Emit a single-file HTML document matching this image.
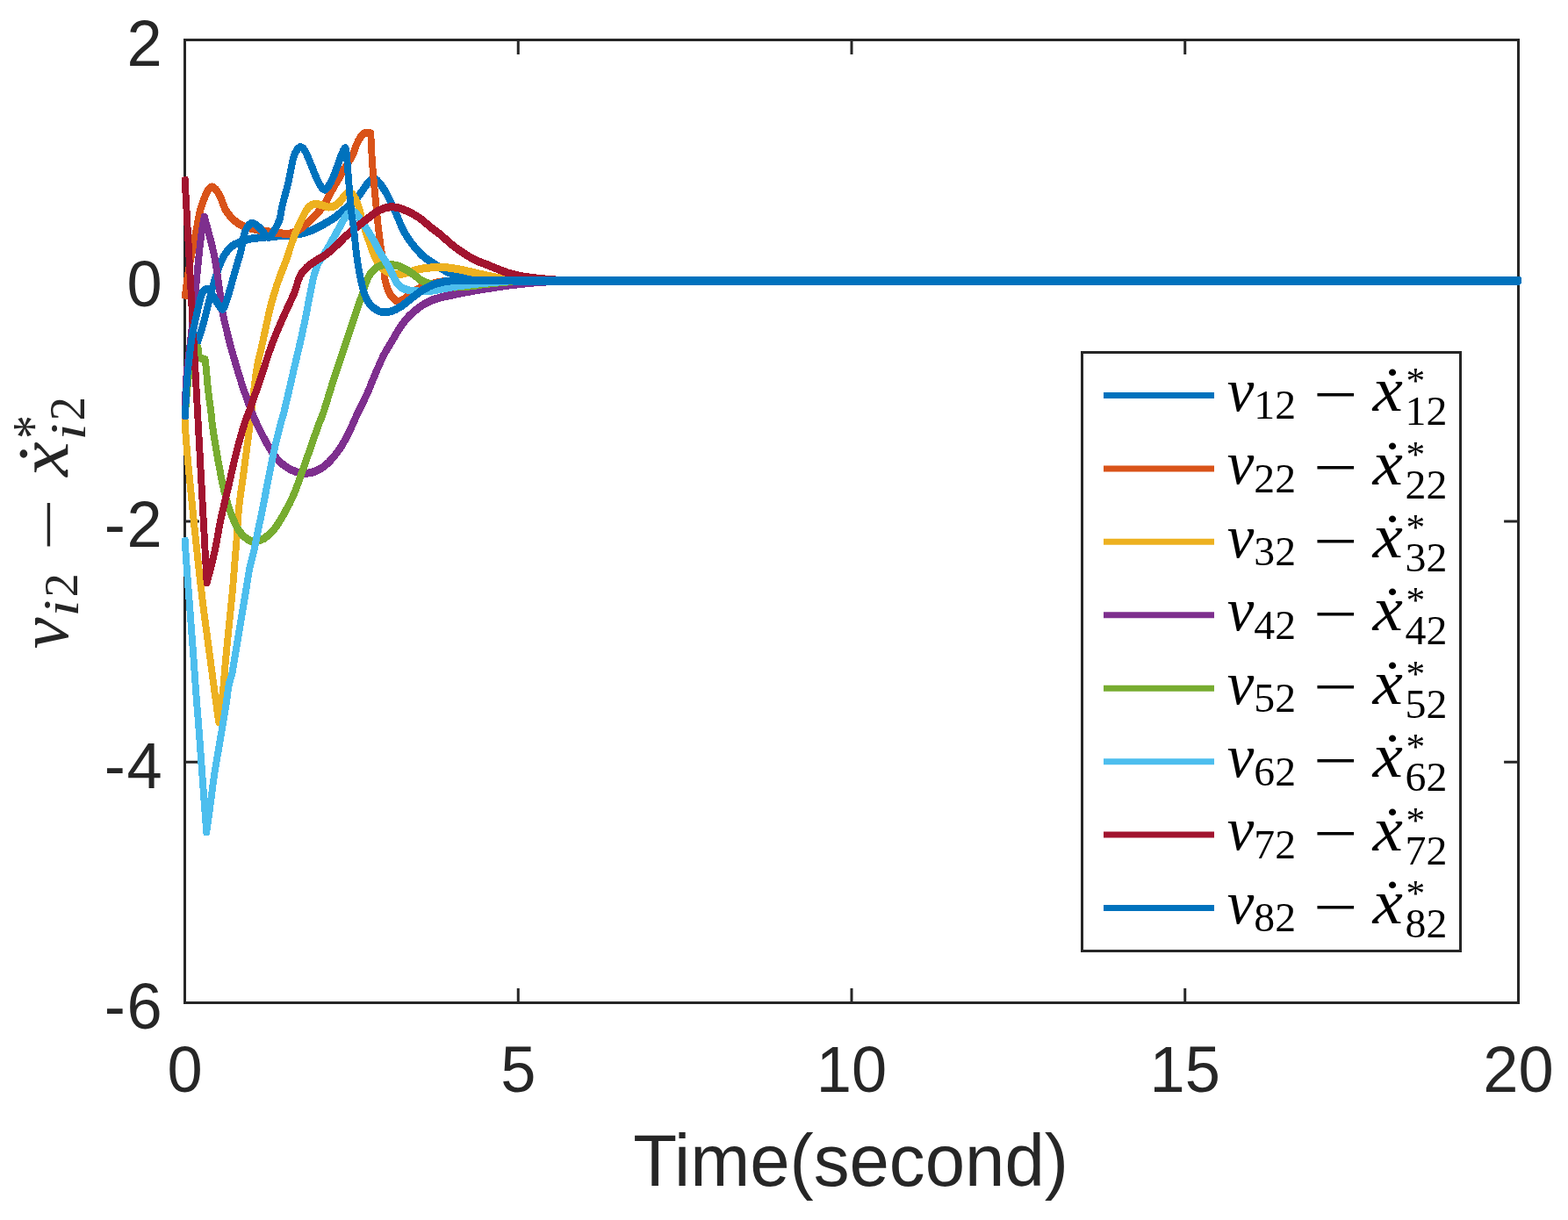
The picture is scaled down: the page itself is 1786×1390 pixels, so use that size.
<!DOCTYPE html>
<html lang="en">
<head>
<meta charset="utf-8">
<title>v_i2 - x*_i2 vs Time(second)</title>
<style>
html,body{margin:0;padding:0;background:#fff;}
body{width:1786px;height:1390px;overflow:hidden;}
svg{display:block;}
.tk text{font-family:"Liberation Sans",sans-serif;font-size:74.8px;fill:#262626;}
.xl{font-family:"Liberation Sans",sans-serif;font-size:84.2px;fill:#262626;}
.it{font-family:"Liberation Serif",serif;font-style:italic;font-size:100px;}
.rm{font-family:"Liberation Serif",serif;font-size:100px;}
.lg text{fill:#000;}
.yl text{fill:#262626;}
.cv path{fill:none;stroke-width:7.8;stroke-linejoin:round;stroke-linecap:butt;shape-rendering:crispEdges;}
</style>
</head>
<body>
<svg width="1786" height="1390" viewBox="0 0 1786 1390">
<rect x="0" y="0" width="1786" height="1390" fill="#fff"/>
<g id="axes" fill="none" stroke="#262626" stroke-width="3">
<rect x="210.5" y="45.5" width="1519.0" height="1097.0" fill="#fff"/>
<path d="M590.25 1142.50V1126.10M590.25 45.50V61.90M970.00 1142.50V1126.10M970.00 45.50V61.90M1349.75 1142.50V1126.10M1349.75 45.50V61.90M210.50 319.75H226.90M1729.50 319.75H1713.10M210.50 594.00H226.90M1729.50 594.00H1713.10M210.50 868.25H226.90M1729.50 868.25H1713.10"/>
</g>
<g class="cv">
<g stroke="#0072BD"><path transform="translate(0 -0.60)" d="M210.5 477.0C210.6 475.7 210.8 473.5 211.1 469.0C211.4 464.5 211.9 456.6 212.5 450.0C213.1 443.4 213.5 436.3 214.5 429.6C215.5 422.9 216.8 416.6 218.5 410.0C220.2 403.4 222.9 396.7 225.0 390.0C227.1 383.3 229.6 375.9 231.3 370.0C233.0 364.1 233.6 361.3 235.3 354.4C237.1 347.5 240.1 335.2 241.8 328.6C243.6 322.0 244.4 319.3 245.8 315.0C247.2 310.7 248.3 307.1 250.0 302.9C251.7 298.7 253.8 293.6 256.0 290.0C258.2 286.4 260.8 283.3 263.5 281.0C266.2 278.7 268.7 277.7 272.1 276.3C275.5 274.9 278.6 273.4 283.7 272.4C288.8 271.3 297.6 270.6 303.0 270.0C308.4 269.4 311.7 269.3 316.0 269.0C320.3 268.7 324.5 268.6 328.8 268.2C333.1 267.8 337.4 267.4 341.7 266.5C346.0 265.6 350.2 264.3 354.5 262.6C358.8 260.9 363.1 258.6 367.4 256.2C371.7 253.8 376.0 251.5 380.3 248.5C384.6 245.5 388.9 241.7 393.2 238.0C397.5 234.3 402.4 230.5 406.0 226.5C409.6 222.5 412.6 217.3 415.0 214.0C417.4 210.7 418.8 208.5 420.5 206.8C422.2 205.1 423.5 204.1 425.1 204.0C426.7 203.9 427.8 203.7 430.0 206.0C432.2 208.3 435.9 213.1 438.6 217.6C441.3 222.1 443.9 227.9 446.3 233.0C448.8 238.1 451.1 243.2 453.3 248.2C455.5 253.2 456.9 257.9 459.5 262.8C462.1 267.7 465.3 272.6 468.9 277.3C472.5 282.0 477.4 287.6 481.0 291.0C484.6 294.4 486.8 295.5 490.5 298.0C494.2 300.5 498.8 303.7 503.0 306.1C507.2 308.5 511.6 310.9 515.9 312.5C520.2 314.1 524.5 314.8 528.8 315.7C533.1 316.6 535.3 317.0 541.7 317.6C548.1 318.2 557.7 318.8 567.4 319.2C577.1 319.6 567.4 319.7 600.0 319.8C793.7 319.8 1541.2 319.8 1729.5 319.8"/><path transform="translate(0 0.60)" d="M210.5 477.0C210.6 475.7 210.8 473.5 211.1 469.0C211.4 464.5 211.9 456.6 212.5 450.0C213.1 443.4 213.5 436.3 214.5 429.6C215.5 422.9 216.8 416.6 218.5 410.0C220.2 403.4 222.9 396.7 225.0 390.0C227.1 383.3 229.6 375.9 231.3 370.0C233.0 364.1 233.6 361.3 235.3 354.4C237.1 347.5 240.1 335.2 241.8 328.6C243.6 322.0 244.4 319.3 245.8 315.0C247.2 310.7 248.3 307.1 250.0 302.9C251.7 298.7 253.8 293.6 256.0 290.0C258.2 286.4 260.8 283.3 263.5 281.0C266.2 278.7 268.7 277.7 272.1 276.3C275.5 274.9 278.6 273.4 283.7 272.4C288.8 271.3 297.6 270.6 303.0 270.0C308.4 269.4 311.7 269.3 316.0 269.0C320.3 268.7 324.5 268.6 328.8 268.2C333.1 267.8 337.4 267.4 341.7 266.5C346.0 265.6 350.2 264.3 354.5 262.6C358.8 260.9 363.1 258.6 367.4 256.2C371.7 253.8 376.0 251.5 380.3 248.5C384.6 245.5 388.9 241.7 393.2 238.0C397.5 234.3 402.4 230.5 406.0 226.5C409.6 222.5 412.6 217.3 415.0 214.0C417.4 210.7 418.8 208.5 420.5 206.8C422.2 205.1 423.5 204.1 425.1 204.0C426.7 203.9 427.8 203.7 430.0 206.0C432.2 208.3 435.9 213.1 438.6 217.6C441.3 222.1 443.9 227.9 446.3 233.0C448.8 238.1 451.1 243.2 453.3 248.2C455.5 253.2 456.9 257.9 459.5 262.8C462.1 267.7 465.3 272.6 468.9 277.3C472.5 282.0 477.4 287.6 481.0 291.0C484.6 294.4 486.8 295.5 490.5 298.0C494.2 300.5 498.8 303.7 503.0 306.1C507.2 308.5 511.6 310.9 515.9 312.5C520.2 314.1 524.5 314.8 528.8 315.7C533.1 316.6 535.3 317.0 541.7 317.6C548.1 318.2 557.7 318.8 567.4 319.2C577.1 319.6 567.4 319.7 600.0 319.8C793.7 319.8 1541.2 319.8 1729.5 319.8"/></g>
<g stroke="#D95319"><path transform="translate(0 -0.60)" d="M210.5 340.0C211.2 335.0 212.5 322.0 214.5 310.0C216.5 298.0 220.2 279.7 222.5 267.8C224.8 255.9 226.3 246.4 228.3 238.7C230.3 231.0 232.8 225.5 234.5 221.5C236.2 217.5 237.3 216.2 238.5 214.8C239.7 213.4 240.6 212.9 241.8 213.0C243.0 213.1 244.0 213.7 245.5 215.5C247.0 217.3 249.0 220.2 250.9 224.1C252.8 228.0 254.6 234.8 256.7 238.7C258.8 242.6 260.9 245.0 263.2 247.6C265.5 250.2 268.1 252.3 270.5 254.0C272.9 255.7 274.9 256.7 277.8 257.8C280.7 258.9 284.4 260.0 288.0 260.8C291.6 261.6 295.9 262.3 299.6 262.9C303.3 263.5 306.4 264.1 310.0 264.6C313.6 265.1 318.1 265.7 321.4 266.0C324.7 266.3 326.6 267.0 330.0 266.2C333.4 265.4 337.6 263.7 341.7 261.0C345.8 258.3 350.9 253.3 354.5 250.0C358.1 246.7 360.6 243.7 363.0 241.0C365.4 238.3 366.6 237.9 369.0 234.1C371.4 230.3 374.6 223.2 377.3 218.4C380.0 213.6 382.7 209.0 385.0 205.0C387.3 201.0 389.1 197.8 391.0 194.5C392.9 191.2 394.7 188.4 396.5 185.5C398.3 182.6 400.0 180.4 401.6 177.0C403.2 173.6 404.4 168.6 406.0 165.0C407.6 161.4 409.5 157.7 411.0 155.5C412.5 153.3 413.7 152.7 415.0 152.0C416.3 151.3 417.8 151.3 419.0 151.3C420.2 151.3 421.8 151.9 422.3 152.0C422.6 156.9 423.2 172.3 423.8 181.5C424.4 190.7 425.1 198.7 425.8 207.3C426.6 215.9 427.5 224.4 428.3 233.0C429.1 241.6 430.0 251.0 430.9 258.8C431.8 266.6 432.6 273.6 433.5 280.0C434.4 286.4 435.2 290.5 436.1 297.0C437.0 303.5 437.5 313.1 438.6 318.9C439.7 324.7 441.0 328.4 442.5 331.8C444.0 335.2 446.0 337.6 447.7 339.5C449.4 341.4 450.9 343.1 452.8 343.4C454.7 343.7 457.1 342.6 459.2 341.5C461.3 340.4 463.1 338.4 465.7 336.5C468.3 334.6 472.1 331.8 475.0 330.0C477.9 328.2 478.8 327.4 483.0 326.0C487.2 324.6 494.7 322.5 500.0 321.5C505.3 320.5 508.3 320.5 515.0 320.2C521.7 319.9 515.0 319.8 540.0 319.8C742.4 319.7 1531.2 319.8 1729.5 319.8"/><path transform="translate(0 0.60)" d="M210.5 340.0C211.2 335.0 212.5 322.0 214.5 310.0C216.5 298.0 220.2 279.7 222.5 267.8C224.8 255.9 226.3 246.4 228.3 238.7C230.3 231.0 232.8 225.5 234.5 221.5C236.2 217.5 237.3 216.2 238.5 214.8C239.7 213.4 240.6 212.9 241.8 213.0C243.0 213.1 244.0 213.7 245.5 215.5C247.0 217.3 249.0 220.2 250.9 224.1C252.8 228.0 254.6 234.8 256.7 238.7C258.8 242.6 260.9 245.0 263.2 247.6C265.5 250.2 268.1 252.3 270.5 254.0C272.9 255.7 274.9 256.7 277.8 257.8C280.7 258.9 284.4 260.0 288.0 260.8C291.6 261.6 295.9 262.3 299.6 262.9C303.3 263.5 306.4 264.1 310.0 264.6C313.6 265.1 318.1 265.7 321.4 266.0C324.7 266.3 326.6 267.0 330.0 266.2C333.4 265.4 337.6 263.7 341.7 261.0C345.8 258.3 350.9 253.3 354.5 250.0C358.1 246.7 360.6 243.7 363.0 241.0C365.4 238.3 366.6 237.9 369.0 234.1C371.4 230.3 374.6 223.2 377.3 218.4C380.0 213.6 382.7 209.0 385.0 205.0C387.3 201.0 389.1 197.8 391.0 194.5C392.9 191.2 394.7 188.4 396.5 185.5C398.3 182.6 400.0 180.4 401.6 177.0C403.2 173.6 404.4 168.6 406.0 165.0C407.6 161.4 409.5 157.7 411.0 155.5C412.5 153.3 413.7 152.7 415.0 152.0C416.3 151.3 417.8 151.3 419.0 151.3C420.2 151.3 421.8 151.9 422.3 152.0C422.6 156.9 423.2 172.3 423.8 181.5C424.4 190.7 425.1 198.7 425.8 207.3C426.6 215.9 427.5 224.4 428.3 233.0C429.1 241.6 430.0 251.0 430.9 258.8C431.8 266.6 432.6 273.6 433.5 280.0C434.4 286.4 435.2 290.5 436.1 297.0C437.0 303.5 437.5 313.1 438.6 318.9C439.7 324.7 441.0 328.4 442.5 331.8C444.0 335.2 446.0 337.6 447.7 339.5C449.4 341.4 450.9 343.1 452.8 343.4C454.7 343.7 457.1 342.6 459.2 341.5C461.3 340.4 463.1 338.4 465.7 336.5C468.3 334.6 472.1 331.8 475.0 330.0C477.9 328.2 478.8 327.4 483.0 326.0C487.2 324.6 494.7 322.5 500.0 321.5C505.3 320.5 508.3 320.5 515.0 320.2C521.7 319.9 515.0 319.8 540.0 319.8C742.4 319.7 1531.2 319.8 1729.5 319.8"/></g>
<g stroke="#EDB120"><path transform="translate(0 -0.60)" d="M210.5 477.0C210.7 480.8 211.3 491.6 211.9 500.0C212.5 508.4 213.2 516.3 214.2 527.3C215.2 538.3 216.7 553.0 218.0 565.9C219.3 578.8 220.6 591.8 221.9 604.5C223.2 617.2 224.4 628.5 225.9 642.4C227.4 656.3 229.4 673.7 231.1 687.7C232.8 701.7 234.5 713.6 236.2 726.5C237.9 739.4 240.0 754.7 241.4 765.3C242.8 775.9 243.4 780.5 244.7 790.0C246.0 799.5 248.4 817.1 249.2 822.5C249.9 817.1 252.4 801.7 253.7 790.0C255.0 778.3 255.8 765.1 257.0 752.4C258.2 739.7 259.5 726.5 260.8 713.6C262.1 700.7 263.6 686.6 264.7 674.7C265.8 662.8 266.5 651.9 267.3 642.4C268.1 632.9 268.5 628.6 269.3 618.0C270.1 607.4 270.8 591.8 272.1 578.8C273.4 565.8 275.6 553.0 277.3 540.1C279.0 527.2 281.0 512.2 282.4 501.5C283.8 490.8 284.6 484.1 285.6 475.8C286.6 467.6 287.1 461.5 288.3 452.0C289.5 442.5 291.0 428.6 292.7 418.8C294.4 409.0 296.1 403.7 298.5 393.0C300.9 382.3 304.6 364.2 306.9 354.4C309.2 344.6 310.6 340.4 312.5 334.0C314.4 327.6 316.2 322.1 318.5 315.8C320.8 309.5 324.1 301.8 326.2 296.0C328.3 290.2 329.4 285.7 331.0 281.0C332.6 276.3 334.1 271.6 335.6 267.8C337.1 264.0 338.4 261.2 339.8 258.0C341.2 254.8 342.6 251.8 344.3 248.5C346.0 245.2 348.1 240.5 350.0 238.0C351.9 235.5 353.7 234.2 355.5 233.3C357.3 232.4 359.0 232.3 361.0 232.4C363.0 232.5 365.2 233.4 367.4 234.0C369.5 234.6 371.8 235.8 373.9 236.0C376.0 236.2 377.9 235.9 380.0 235.0C382.1 234.1 384.5 232.7 386.7 230.5C388.9 228.3 391.4 223.8 393.2 222.0C395.0 220.2 395.9 219.4 397.5 219.5C399.1 219.6 400.9 220.4 402.6 222.7C404.3 224.9 406.0 228.1 407.7 233.0C409.4 237.9 411.0 245.5 412.9 252.0C414.8 258.5 417.1 265.7 419.3 272.0C421.5 278.3 423.4 284.8 425.8 290.0C428.2 295.2 430.9 300.2 433.5 303.5C436.1 306.8 438.2 308.3 441.2 309.9C444.2 311.5 447.6 312.9 451.5 313.0C455.4 313.1 460.1 311.6 464.4 310.5C468.7 309.4 473.0 307.6 477.3 306.7C481.6 305.8 485.3 305.3 490.2 305.0C495.1 304.7 501.5 304.4 506.9 304.7C512.2 305.0 516.5 305.8 522.3 306.8C528.1 307.9 536.3 309.8 541.7 311.0C547.1 312.2 550.2 313.1 554.5 314.0C558.8 314.9 563.1 315.8 567.4 316.5C571.7 317.2 574.9 317.7 580.3 318.2C585.7 318.7 594.2 319.2 600.0 319.5C605.8 319.8 600.0 319.7 615.0 319.8C803.2 319.8 1543.8 319.8 1729.5 319.8"/><path transform="translate(0 0.60)" d="M210.5 477.0C210.7 480.8 211.3 491.6 211.9 500.0C212.5 508.4 213.2 516.3 214.2 527.3C215.2 538.3 216.7 553.0 218.0 565.9C219.3 578.8 220.6 591.8 221.9 604.5C223.2 617.2 224.4 628.5 225.9 642.4C227.4 656.3 229.4 673.7 231.1 687.7C232.8 701.7 234.5 713.6 236.2 726.5C237.9 739.4 240.0 754.7 241.4 765.3C242.8 775.9 243.4 780.5 244.7 790.0C246.0 799.5 248.4 817.1 249.2 822.5C249.9 817.1 252.4 801.7 253.7 790.0C255.0 778.3 255.8 765.1 257.0 752.4C258.2 739.7 259.5 726.5 260.8 713.6C262.1 700.7 263.6 686.6 264.7 674.7C265.8 662.8 266.5 651.9 267.3 642.4C268.1 632.9 268.5 628.6 269.3 618.0C270.1 607.4 270.8 591.8 272.1 578.8C273.4 565.8 275.6 553.0 277.3 540.1C279.0 527.2 281.0 512.2 282.4 501.5C283.8 490.8 284.6 484.1 285.6 475.8C286.6 467.6 287.1 461.5 288.3 452.0C289.5 442.5 291.0 428.6 292.7 418.8C294.4 409.0 296.1 403.7 298.5 393.0C300.9 382.3 304.6 364.2 306.9 354.4C309.2 344.6 310.6 340.4 312.5 334.0C314.4 327.6 316.2 322.1 318.5 315.8C320.8 309.5 324.1 301.8 326.2 296.0C328.3 290.2 329.4 285.7 331.0 281.0C332.6 276.3 334.1 271.6 335.6 267.8C337.1 264.0 338.4 261.2 339.8 258.0C341.2 254.8 342.6 251.8 344.3 248.5C346.0 245.2 348.1 240.5 350.0 238.0C351.9 235.5 353.7 234.2 355.5 233.3C357.3 232.4 359.0 232.3 361.0 232.4C363.0 232.5 365.2 233.4 367.4 234.0C369.5 234.6 371.8 235.8 373.9 236.0C376.0 236.2 377.9 235.9 380.0 235.0C382.1 234.1 384.5 232.7 386.7 230.5C388.9 228.3 391.4 223.8 393.2 222.0C395.0 220.2 395.9 219.4 397.5 219.5C399.1 219.6 400.9 220.4 402.6 222.7C404.3 224.9 406.0 228.1 407.7 233.0C409.4 237.9 411.0 245.5 412.9 252.0C414.8 258.5 417.1 265.7 419.3 272.0C421.5 278.3 423.4 284.8 425.8 290.0C428.2 295.2 430.9 300.2 433.5 303.5C436.1 306.8 438.2 308.3 441.2 309.9C444.2 311.5 447.6 312.9 451.5 313.0C455.4 313.1 460.1 311.6 464.4 310.5C468.7 309.4 473.0 307.6 477.3 306.7C481.6 305.8 485.3 305.3 490.2 305.0C495.1 304.7 501.5 304.4 506.9 304.7C512.2 305.0 516.5 305.8 522.3 306.8C528.1 307.9 536.3 309.8 541.7 311.0C547.1 312.2 550.2 313.1 554.5 314.0C558.8 314.9 563.1 315.8 567.4 316.5C571.7 317.2 574.9 317.7 580.3 318.2C585.7 318.7 594.2 319.2 600.0 319.5C605.8 319.8 600.0 319.7 615.0 319.8C803.2 319.8 1543.8 319.8 1729.5 319.8"/></g>
<g stroke="#7E2F8E"><path transform="translate(0 -0.60)" d="M210.5 477.0C210.8 469.1 211.2 444.1 212.3 429.6C213.4 415.1 215.5 403.3 216.9 390.0C218.3 376.7 219.5 365.0 221.0 350.0C222.5 335.0 224.3 314.0 225.7 300.0C227.1 286.0 228.3 274.8 229.5 266.0C230.7 257.2 232.2 250.3 232.8 247.2C233.5 249.8 235.2 255.4 237.0 262.5C238.8 269.6 241.8 280.1 243.8 290.0C245.8 299.9 247.4 311.3 249.0 322.0C250.6 332.7 251.9 345.7 253.3 354.4C254.7 363.1 256.1 367.6 257.6 374.0C259.1 380.4 260.5 386.2 262.3 393.0C264.1 399.8 266.4 407.5 268.6 415.0C270.8 422.5 273.5 431.4 275.6 438.1C277.8 444.8 279.2 448.7 281.5 455.0C283.8 461.3 286.1 468.5 289.3 475.8C292.5 483.1 297.1 492.5 300.5 498.9C303.9 505.3 306.5 509.9 309.5 514.4C312.5 518.9 315.3 522.8 318.5 526.0C321.7 529.2 325.4 531.7 328.8 533.7C332.2 535.7 335.9 537.2 339.1 538.2C342.3 539.2 344.5 539.8 348.1 539.5C351.8 539.2 356.7 538.3 361.0 536.3C365.3 534.3 369.6 531.4 373.9 527.3C378.2 523.2 382.6 517.8 386.7 511.8C390.8 505.8 394.8 498.1 398.2 491.2C401.6 484.3 404.1 477.6 407.4 470.6C410.7 463.6 415.0 455.6 418.0 449.0C421.0 442.4 422.3 438.3 425.4 431.0C428.5 423.7 433.2 412.4 436.8 405.2C440.4 398.0 443.6 393.4 446.8 388.0C450.0 382.6 452.6 377.7 455.8 373.0C459.0 368.3 462.2 363.9 466.0 360.0C469.8 356.1 474.5 352.4 478.5 349.5C482.5 346.6 486.1 344.6 490.2 342.8C494.3 341.0 498.7 339.8 503.0 338.6C507.3 337.5 511.6 336.8 515.9 335.9C520.2 335.0 522.4 334.4 528.8 333.2C535.2 332.0 545.9 330.2 554.5 328.8C563.1 327.4 571.7 326.1 580.3 325.0C588.9 323.9 598.5 322.9 606.0 322.2C613.5 321.5 617.7 321.2 625.0 320.8C632.3 320.4 625.0 319.9 650.0 319.8C834.1 319.6 1549.6 319.8 1729.5 319.8"/><path transform="translate(0 0.60)" d="M210.5 477.0C210.8 469.1 211.2 444.1 212.3 429.6C213.4 415.1 215.5 403.3 216.9 390.0C218.3 376.7 219.5 365.0 221.0 350.0C222.5 335.0 224.3 314.0 225.7 300.0C227.1 286.0 228.3 274.8 229.5 266.0C230.7 257.2 232.2 250.3 232.8 247.2C233.5 249.8 235.2 255.4 237.0 262.5C238.8 269.6 241.8 280.1 243.8 290.0C245.8 299.9 247.4 311.3 249.0 322.0C250.6 332.7 251.9 345.7 253.3 354.4C254.7 363.1 256.1 367.6 257.6 374.0C259.1 380.4 260.5 386.2 262.3 393.0C264.1 399.8 266.4 407.5 268.6 415.0C270.8 422.5 273.5 431.4 275.6 438.1C277.8 444.8 279.2 448.7 281.5 455.0C283.8 461.3 286.1 468.5 289.3 475.8C292.5 483.1 297.1 492.5 300.5 498.9C303.9 505.3 306.5 509.9 309.5 514.4C312.5 518.9 315.3 522.8 318.5 526.0C321.7 529.2 325.4 531.7 328.8 533.7C332.2 535.7 335.9 537.2 339.1 538.2C342.3 539.2 344.5 539.8 348.1 539.5C351.8 539.2 356.7 538.3 361.0 536.3C365.3 534.3 369.6 531.4 373.9 527.3C378.2 523.2 382.6 517.8 386.7 511.8C390.8 505.8 394.8 498.1 398.2 491.2C401.6 484.3 404.1 477.6 407.4 470.6C410.7 463.6 415.0 455.6 418.0 449.0C421.0 442.4 422.3 438.3 425.4 431.0C428.5 423.7 433.2 412.4 436.8 405.2C440.4 398.0 443.6 393.4 446.8 388.0C450.0 382.6 452.6 377.7 455.8 373.0C459.0 368.3 462.2 363.9 466.0 360.0C469.8 356.1 474.5 352.4 478.5 349.5C482.5 346.6 486.1 344.6 490.2 342.8C494.3 341.0 498.7 339.8 503.0 338.6C507.3 337.5 511.6 336.8 515.9 335.9C520.2 335.0 522.4 334.4 528.8 333.2C535.2 332.0 545.9 330.2 554.5 328.8C563.1 327.4 571.7 326.1 580.3 325.0C588.9 323.9 598.5 322.9 606.0 322.2C613.5 321.5 617.7 321.2 625.0 320.8C632.3 320.4 625.0 319.9 650.0 319.8C834.1 319.6 1549.6 319.8 1729.5 319.8"/></g>
<g stroke="#77AC30"><path transform="translate(0 -0.60)" d="M210.5 477.0C211.2 469.1 213.3 440.4 214.8 429.6C216.3 418.8 217.7 417.6 219.5 412.0C221.3 406.4 224.6 398.9 225.6 396.3L226.20 407.30L233.60 409.70C233.8 411.7 234.4 415.7 235.0 421.6C235.6 427.6 236.3 437.5 237.2 445.4C238.1 453.3 239.4 461.8 240.3 469.0C241.2 476.2 241.1 478.9 242.5 488.6C243.9 498.3 246.8 515.5 248.9 527.3C251.1 539.1 253.0 549.9 255.4 559.5C257.8 569.1 260.3 577.7 263.1 585.2C265.9 592.7 268.9 599.6 272.1 604.5C275.3 609.4 279.3 612.8 282.4 614.8C285.5 616.8 287.8 617.0 290.8 616.8C293.8 616.6 297.0 615.9 300.5 613.6C304.0 611.4 308.1 608.0 312.0 603.3C315.9 598.6 319.7 592.1 323.6 585.2C327.5 578.3 331.6 570.6 335.2 562.0C338.8 553.4 342.3 542.7 345.5 533.7C348.7 524.7 351.5 516.6 354.5 508.0C357.5 499.4 361.2 488.7 363.6 482.2C366.0 475.7 365.9 477.4 368.7 469.0C371.5 460.6 376.2 444.4 380.3 431.7C384.4 419.0 389.9 402.8 393.2 393.0C396.5 383.2 397.8 379.6 400.0 373.0C402.2 366.4 404.2 360.1 406.4 353.7C408.5 347.3 410.8 340.6 412.9 334.4C415.0 328.2 417.1 320.9 419.3 316.4C421.5 311.9 423.2 309.7 425.8 307.3C428.4 304.9 431.2 303.1 434.8 302.2C438.4 301.3 443.8 301.5 447.7 301.9C451.6 302.3 454.1 303.0 458.0 304.8C461.9 306.6 467.2 310.1 470.8 312.5C474.4 314.9 476.6 317.7 479.8 319.5C483.0 321.3 485.8 322.4 490.0 323.5C494.2 324.6 500.0 325.7 505.0 326.3C510.0 326.9 515.0 327.1 520.0 327.0C525.0 326.9 529.4 326.6 535.0 326.0C540.6 325.4 547.1 324.2 553.8 323.4C560.5 322.6 567.3 321.9 575.0 321.3C582.7 320.7 575.0 320.0 600.0 319.8C792.4 319.5 1541.2 319.8 1729.5 319.8"/><path transform="translate(0 0.60)" d="M210.5 477.0C211.2 469.1 213.3 440.4 214.8 429.6C216.3 418.8 217.7 417.6 219.5 412.0C221.3 406.4 224.6 398.9 225.6 396.3L226.20 407.30L233.60 409.70C233.8 411.7 234.4 415.7 235.0 421.6C235.6 427.6 236.3 437.5 237.2 445.4C238.1 453.3 239.4 461.8 240.3 469.0C241.2 476.2 241.1 478.9 242.5 488.6C243.9 498.3 246.8 515.5 248.9 527.3C251.1 539.1 253.0 549.9 255.4 559.5C257.8 569.1 260.3 577.7 263.1 585.2C265.9 592.7 268.9 599.6 272.1 604.5C275.3 609.4 279.3 612.8 282.4 614.8C285.5 616.8 287.8 617.0 290.8 616.8C293.8 616.6 297.0 615.9 300.5 613.6C304.0 611.4 308.1 608.0 312.0 603.3C315.9 598.6 319.7 592.1 323.6 585.2C327.5 578.3 331.6 570.6 335.2 562.0C338.8 553.4 342.3 542.7 345.5 533.7C348.7 524.7 351.5 516.6 354.5 508.0C357.5 499.4 361.2 488.7 363.6 482.2C366.0 475.7 365.9 477.4 368.7 469.0C371.5 460.6 376.2 444.4 380.3 431.7C384.4 419.0 389.9 402.8 393.2 393.0C396.5 383.2 397.8 379.6 400.0 373.0C402.2 366.4 404.2 360.1 406.4 353.7C408.5 347.3 410.8 340.6 412.9 334.4C415.0 328.2 417.1 320.9 419.3 316.4C421.5 311.9 423.2 309.7 425.8 307.3C428.4 304.9 431.2 303.1 434.8 302.2C438.4 301.3 443.8 301.5 447.7 301.9C451.6 302.3 454.1 303.0 458.0 304.8C461.9 306.6 467.2 310.1 470.8 312.5C474.4 314.9 476.6 317.7 479.8 319.5C483.0 321.3 485.8 322.4 490.0 323.5C494.2 324.6 500.0 325.7 505.0 326.3C510.0 326.9 515.0 327.1 520.0 327.0C525.0 326.9 529.4 326.6 535.0 326.0C540.6 325.4 547.1 324.2 553.8 323.4C560.5 322.6 567.3 321.9 575.0 321.3C582.7 320.7 575.0 320.0 600.0 319.8C792.4 319.5 1541.2 319.8 1729.5 319.8"/></g>
<g stroke="#4DBEEE"><path transform="translate(0 -0.60)" d="M210.5 613.0C210.9 619.0 211.8 634.2 212.9 648.8C214.0 663.4 215.5 683.3 216.8 700.6C218.1 717.9 219.6 737.5 220.7 752.4C221.8 767.3 222.3 777.1 223.3 790.0C224.3 802.9 225.4 815.3 226.5 830.0C227.6 844.7 228.6 858.3 230.0 878.0C231.4 897.7 234.3 936.3 235.2 948.0C235.8 943.7 237.3 933.1 238.8 922.4C240.3 911.7 242.1 896.5 244.0 883.6C245.9 870.7 248.3 857.7 250.5 844.7C252.7 831.8 255.3 816.7 257.0 805.9C258.7 795.1 259.5 786.8 260.8 780.0C262.1 773.2 263.0 774.2 264.7 765.3C266.4 756.4 269.0 739.4 271.2 726.5C273.4 713.6 275.5 700.7 277.7 687.7C279.9 674.8 282.2 658.6 284.1 648.8C286.0 639.0 286.8 638.5 288.9 629.0C291.0 619.5 294.0 604.4 296.6 591.7C299.2 579.0 301.7 565.9 304.3 553.0C306.9 540.1 309.4 526.2 312.0 514.4C314.6 502.6 317.9 489.8 319.8 482.2C321.7 474.6 321.0 479.6 323.6 469.0C326.2 458.4 331.8 433.6 335.2 418.8C338.6 404.0 341.4 393.0 344.2 380.1C347.0 367.2 349.9 352.2 352.0 341.5C354.1 330.8 355.4 322.7 357.1 315.8C358.8 308.9 360.6 304.2 362.3 300.3C364.0 296.4 365.3 296.0 367.4 292.6C369.5 289.2 372.1 285.1 375.0 280.0C377.9 274.9 381.7 267.8 385.0 262.0C388.3 256.2 391.9 248.3 395.0 245.0C398.1 241.7 400.9 240.6 403.9 242.0C406.9 243.4 409.2 248.2 412.9 253.6C416.5 259.0 422.6 268.7 425.8 274.2C429.0 279.7 429.4 281.8 432.2 286.7C435.0 291.6 439.3 297.7 442.5 303.5C445.7 309.3 448.9 317.4 451.5 321.5C454.1 325.6 455.4 326.4 458.0 328.0C460.6 329.6 463.8 330.3 467.0 331.0C470.2 331.7 473.4 331.9 477.3 332.0C481.2 332.1 486.4 331.7 490.2 331.3C494.0 330.9 495.9 330.4 500.0 329.7C504.1 329.0 510.5 327.8 515.0 327.0C519.5 326.2 522.0 325.9 527.0 325.2C532.0 324.5 538.7 323.6 545.0 323.0C551.3 322.4 557.5 321.8 565.0 321.3C572.5 320.8 565.0 320.0 590.0 319.8C784.1 319.5 1539.6 319.8 1729.5 319.8"/><path transform="translate(0 0.60)" d="M210.5 613.0C210.9 619.0 211.8 634.2 212.9 648.8C214.0 663.4 215.5 683.3 216.8 700.6C218.1 717.9 219.6 737.5 220.7 752.4C221.8 767.3 222.3 777.1 223.3 790.0C224.3 802.9 225.4 815.3 226.5 830.0C227.6 844.7 228.6 858.3 230.0 878.0C231.4 897.7 234.3 936.3 235.2 948.0C235.8 943.7 237.3 933.1 238.8 922.4C240.3 911.7 242.1 896.5 244.0 883.6C245.9 870.7 248.3 857.7 250.5 844.7C252.7 831.8 255.3 816.7 257.0 805.9C258.7 795.1 259.5 786.8 260.8 780.0C262.1 773.2 263.0 774.2 264.7 765.3C266.4 756.4 269.0 739.4 271.2 726.5C273.4 713.6 275.5 700.7 277.7 687.7C279.9 674.8 282.2 658.6 284.1 648.8C286.0 639.0 286.8 638.5 288.9 629.0C291.0 619.5 294.0 604.4 296.6 591.7C299.2 579.0 301.7 565.9 304.3 553.0C306.9 540.1 309.4 526.2 312.0 514.4C314.6 502.6 317.9 489.8 319.8 482.2C321.7 474.6 321.0 479.6 323.6 469.0C326.2 458.4 331.8 433.6 335.2 418.8C338.6 404.0 341.4 393.0 344.2 380.1C347.0 367.2 349.9 352.2 352.0 341.5C354.1 330.8 355.4 322.7 357.1 315.8C358.8 308.9 360.6 304.2 362.3 300.3C364.0 296.4 365.3 296.0 367.4 292.6C369.5 289.2 372.1 285.1 375.0 280.0C377.9 274.9 381.7 267.8 385.0 262.0C388.3 256.2 391.9 248.3 395.0 245.0C398.1 241.7 400.9 240.6 403.9 242.0C406.9 243.4 409.2 248.2 412.9 253.6C416.5 259.0 422.6 268.7 425.8 274.2C429.0 279.7 429.4 281.8 432.2 286.7C435.0 291.6 439.3 297.7 442.5 303.5C445.7 309.3 448.9 317.4 451.5 321.5C454.1 325.6 455.4 326.4 458.0 328.0C460.6 329.6 463.8 330.3 467.0 331.0C470.2 331.7 473.4 331.9 477.3 332.0C481.2 332.1 486.4 331.7 490.2 331.3C494.0 330.9 495.9 330.4 500.0 329.7C504.1 329.0 510.5 327.8 515.0 327.0C519.5 326.2 522.0 325.9 527.0 325.2C532.0 324.5 538.7 323.6 545.0 323.0C551.3 322.4 557.5 321.8 565.0 321.3C572.5 320.8 565.0 320.0 590.0 319.8C784.1 319.5 1539.6 319.8 1729.5 319.8"/></g>
<g stroke="#A2142F"><path transform="translate(0 -0.60)" d="M210.5 202.0L235.60 664.00C237.1 658.2 241.8 641.0 244.4 629.0C247.1 617.0 248.8 604.4 251.5 591.7C254.2 579.0 257.5 565.9 260.5 553.0C263.5 540.1 266.5 526.2 269.5 514.4C272.5 502.6 276.2 489.8 278.6 482.2C281.0 474.6 280.7 477.4 283.7 469.0C286.7 460.6 292.3 444.4 296.6 431.7C300.9 419.0 305.2 404.6 309.5 393.0C313.8 381.4 318.0 372.0 322.3 362.1C326.6 352.2 332.3 340.9 335.2 333.8C338.1 326.7 338.5 323.0 339.7 319.6C340.9 316.2 341.9 314.3 342.3 313.2C343.1 312.2 345.2 309.2 346.8 307.4C348.4 305.6 349.6 304.3 352.0 302.5C354.4 300.7 357.8 298.5 361.0 296.4C364.2 294.3 367.3 293.1 371.3 290.0C375.3 286.9 381.1 281.7 385.0 278.0C388.9 274.3 391.4 271.2 395.0 268.0C398.6 264.8 402.3 262.1 406.4 258.8C410.4 255.6 415.0 251.7 419.3 248.5C423.6 245.3 428.1 241.6 432.2 239.5C436.3 237.4 440.1 236.3 443.8 235.9C447.5 235.5 450.7 236.1 454.1 236.9C457.5 237.7 460.5 239.0 464.4 240.8C468.3 242.7 473.0 245.1 477.3 248.0C481.6 250.9 485.9 255.1 490.2 258.5C494.5 261.9 498.7 264.9 503.0 268.5C507.3 272.1 511.6 276.4 515.9 279.8C520.2 283.2 524.5 286.2 528.8 289.0C533.1 291.8 537.4 294.4 541.7 296.5C546.0 298.6 550.2 299.8 554.5 301.5C558.8 303.2 563.1 305.1 567.4 306.8C571.7 308.5 576.0 310.2 580.3 311.5C584.6 312.8 588.9 313.7 593.2 314.5C597.5 315.3 599.9 315.8 606.0 316.5C612.1 317.2 622.7 318.2 630.0 318.7C637.3 319.2 630.0 319.6 650.0 319.8C833.2 319.9 1549.6 319.8 1729.5 319.8"/><path transform="translate(0 0.60)" d="M210.5 202.0L235.60 664.00C237.1 658.2 241.8 641.0 244.4 629.0C247.1 617.0 248.8 604.4 251.5 591.7C254.2 579.0 257.5 565.9 260.5 553.0C263.5 540.1 266.5 526.2 269.5 514.4C272.5 502.6 276.2 489.8 278.6 482.2C281.0 474.6 280.7 477.4 283.7 469.0C286.7 460.6 292.3 444.4 296.6 431.7C300.9 419.0 305.2 404.6 309.5 393.0C313.8 381.4 318.0 372.0 322.3 362.1C326.6 352.2 332.3 340.9 335.2 333.8C338.1 326.7 338.5 323.0 339.7 319.6C340.9 316.2 341.9 314.3 342.3 313.2C343.1 312.2 345.2 309.2 346.8 307.4C348.4 305.6 349.6 304.3 352.0 302.5C354.4 300.7 357.8 298.5 361.0 296.4C364.2 294.3 367.3 293.1 371.3 290.0C375.3 286.9 381.1 281.7 385.0 278.0C388.9 274.3 391.4 271.2 395.0 268.0C398.6 264.8 402.3 262.1 406.4 258.8C410.4 255.6 415.0 251.7 419.3 248.5C423.6 245.3 428.1 241.6 432.2 239.5C436.3 237.4 440.1 236.3 443.8 235.9C447.5 235.5 450.7 236.1 454.1 236.9C457.5 237.7 460.5 239.0 464.4 240.8C468.3 242.7 473.0 245.1 477.3 248.0C481.6 250.9 485.9 255.1 490.2 258.5C494.5 261.9 498.7 264.9 503.0 268.5C507.3 272.1 511.6 276.4 515.9 279.8C520.2 283.2 524.5 286.2 528.8 289.0C533.1 291.8 537.4 294.4 541.7 296.5C546.0 298.6 550.2 299.8 554.5 301.5C558.8 303.2 563.1 305.1 567.4 306.8C571.7 308.5 576.0 310.2 580.3 311.5C584.6 312.8 588.9 313.7 593.2 314.5C597.5 315.3 599.9 315.8 606.0 316.5C612.1 317.2 622.7 318.2 630.0 318.7C637.3 319.2 630.0 319.6 650.0 319.8C833.2 319.9 1549.6 319.8 1729.5 319.8"/></g>
<g stroke="#0072BD"><path transform="translate(0 -0.60)" d="M210.5 477.0C210.6 475.7 210.6 476.9 211.1 469.0C211.6 461.1 212.2 442.8 213.3 429.6C214.4 416.4 216.7 399.0 217.8 390.0C219.0 381.0 219.0 381.8 220.2 375.6C221.4 369.4 223.8 359.1 225.2 352.9C226.6 346.7 227.7 341.8 228.7 338.3C229.7 334.8 230.3 333.5 231.3 332.0C232.3 330.5 233.4 329.6 234.6 329.4C235.8 329.2 236.9 329.6 238.3 331.0C239.7 332.4 241.4 335.0 243.0 337.5C244.6 340.0 246.3 343.5 248.0 346.0C249.7 348.5 251.7 352.3 253.2 352.3C254.7 352.3 255.5 349.9 257.0 346.0C258.5 342.1 260.2 335.8 262.3 328.6C264.4 321.4 267.6 309.3 269.5 302.9C271.4 296.5 272.5 293.1 273.4 290.0C274.3 286.9 273.9 288.6 274.8 284.5C275.7 280.4 277.1 270.1 278.5 265.5C279.9 260.9 281.7 258.7 283.3 256.8C284.9 255.0 286.0 254.0 288.0 254.4C290.0 254.8 292.6 256.9 295.5 259.5C298.4 262.1 302.9 269.6 305.6 270.3C308.3 271.1 309.9 266.2 311.5 264.0C313.1 261.8 314.3 259.5 315.5 257.0C316.7 254.5 317.9 252.1 318.8 249.0C319.7 245.9 319.6 243.1 320.6 238.7C321.6 234.3 323.4 227.3 324.6 222.5C325.8 217.7 326.9 214.2 328.0 209.6C329.1 205.0 329.9 200.1 331.0 195.0C332.1 189.9 333.1 183.3 334.3 179.2C335.6 175.1 337.0 172.4 338.5 170.5C340.0 168.6 341.5 167.3 343.1 167.7C344.7 168.1 346.2 169.8 348.0 173.0C349.8 176.2 352.0 182.2 354.1 187.1C356.2 192.0 358.6 198.6 360.4 202.7C362.2 206.8 363.4 209.2 365.0 211.5C366.6 213.8 368.2 216.2 369.8 216.2C371.4 216.2 372.9 213.8 374.5 211.5C376.1 209.2 377.4 206.8 379.2 202.7C381.0 198.6 383.4 191.7 385.1 187.1C386.8 182.5 388.1 178.0 389.5 175.0C390.9 172.0 392.7 167.8 393.7 168.9C394.7 170.0 394.8 175.9 395.3 181.5C395.8 187.1 396.2 193.9 396.9 202.7C397.6 211.5 398.7 226.4 399.4 234.1C400.1 241.8 400.6 244.9 401.2 249.0C401.8 253.1 402.0 252.9 402.7 258.8C403.4 264.7 404.7 277.6 405.5 284.5C406.3 291.4 406.7 294.7 407.5 300.0C408.3 305.3 409.2 310.5 410.5 316.5C411.8 322.5 413.7 330.9 415.5 336.0C417.3 341.1 419.3 344.2 421.5 347.0C423.7 349.8 426.3 351.4 428.5 352.8C430.7 354.2 432.0 355.2 434.8 355.5C437.6 355.8 441.2 356.0 445.1 354.8C449.0 353.6 453.7 351.1 458.0 348.3C462.3 345.5 466.5 341.4 470.8 338.2C475.1 335.0 479.4 331.5 483.7 329.0C488.0 326.5 492.3 324.7 496.6 323.3C500.9 321.9 504.1 321.0 509.5 320.4C514.9 319.8 509.5 319.9 528.8 319.8C732.1 319.6 1529.4 319.8 1729.5 319.8"/><path transform="translate(0 0.60)" d="M210.5 477.0C210.6 475.7 210.6 476.9 211.1 469.0C211.6 461.1 212.2 442.8 213.3 429.6C214.4 416.4 216.7 399.0 217.8 390.0C219.0 381.0 219.0 381.8 220.2 375.6C221.4 369.4 223.8 359.1 225.2 352.9C226.6 346.7 227.7 341.8 228.7 338.3C229.7 334.8 230.3 333.5 231.3 332.0C232.3 330.5 233.4 329.6 234.6 329.4C235.8 329.2 236.9 329.6 238.3 331.0C239.7 332.4 241.4 335.0 243.0 337.5C244.6 340.0 246.3 343.5 248.0 346.0C249.7 348.5 251.7 352.3 253.2 352.3C254.7 352.3 255.5 349.9 257.0 346.0C258.5 342.1 260.2 335.8 262.3 328.6C264.4 321.4 267.6 309.3 269.5 302.9C271.4 296.5 272.5 293.1 273.4 290.0C274.3 286.9 273.9 288.6 274.8 284.5C275.7 280.4 277.1 270.1 278.5 265.5C279.9 260.9 281.7 258.7 283.3 256.8C284.9 255.0 286.0 254.0 288.0 254.4C290.0 254.8 292.6 256.9 295.5 259.5C298.4 262.1 302.9 269.6 305.6 270.3C308.3 271.1 309.9 266.2 311.5 264.0C313.1 261.8 314.3 259.5 315.5 257.0C316.7 254.5 317.9 252.1 318.8 249.0C319.7 245.9 319.6 243.1 320.6 238.7C321.6 234.3 323.4 227.3 324.6 222.5C325.8 217.7 326.9 214.2 328.0 209.6C329.1 205.0 329.9 200.1 331.0 195.0C332.1 189.9 333.1 183.3 334.3 179.2C335.6 175.1 337.0 172.4 338.5 170.5C340.0 168.6 341.5 167.3 343.1 167.7C344.7 168.1 346.2 169.8 348.0 173.0C349.8 176.2 352.0 182.2 354.1 187.1C356.2 192.0 358.6 198.6 360.4 202.7C362.2 206.8 363.4 209.2 365.0 211.5C366.6 213.8 368.2 216.2 369.8 216.2C371.4 216.2 372.9 213.8 374.5 211.5C376.1 209.2 377.4 206.8 379.2 202.7C381.0 198.6 383.4 191.7 385.1 187.1C386.8 182.5 388.1 178.0 389.5 175.0C390.9 172.0 392.7 167.8 393.7 168.9C394.7 170.0 394.8 175.9 395.3 181.5C395.8 187.1 396.2 193.9 396.9 202.7C397.6 211.5 398.7 226.4 399.4 234.1C400.1 241.8 400.6 244.9 401.2 249.0C401.8 253.1 402.0 252.9 402.7 258.8C403.4 264.7 404.7 277.6 405.5 284.5C406.3 291.4 406.7 294.7 407.5 300.0C408.3 305.3 409.2 310.5 410.5 316.5C411.8 322.5 413.7 330.9 415.5 336.0C417.3 341.1 419.3 344.2 421.5 347.0C423.7 349.8 426.3 351.4 428.5 352.8C430.7 354.2 432.0 355.2 434.8 355.5C437.6 355.8 441.2 356.0 445.1 354.8C449.0 353.6 453.7 351.1 458.0 348.3C462.3 345.5 466.5 341.4 470.8 338.2C475.1 335.0 479.4 331.5 483.7 329.0C488.0 326.5 492.3 324.7 496.6 323.3C500.9 321.9 504.1 321.0 509.5 320.4C514.9 319.8 509.5 319.9 528.8 319.8C732.1 319.6 1529.4 319.8 1729.5 319.8"/></g>
<path d="M505 316.3L560 315.4L620 314.9H1729.5Q1733 314.9 1733 318.4V321.3Q1733 324.8 1729.5 324.8H620L560 324.3L505 323.6Z" style="fill:#0072BD;stroke:none"/>
</g>
<g id="legend" class="lg">
<rect x="1232.5" y="401.5" width="431" height="682" fill="#fff" stroke="#262626" stroke-width="3"/>
<path d="M1257 450.50H1383" stroke="#0072BD" stroke-width="7" fill="none"/>
<text class="it" transform="translate(1397.87 467.89) scale(0.6884 0.7064)">v</text><text class="rm" transform="translate(1428.33 477.40) scale(0.4770 0.4694)">12</text><text class="rm" transform="translate(1495.93 472.73) scale(0.8946 0.7000)">−</text><text class="it" transform="translate(1563.47 468.20) scale(0.7709 0.7094)">ẋ</text><text class="rm" transform="translate(1601.42 448.09) scale(0.4350 0.4136)">*</text><text class="rm" transform="translate(1600.52 484.20) scale(0.4781 0.4634)">12</text>
<path d="M1257 533.93H1383" stroke="#D95319" stroke-width="7" fill="none"/>
<text class="it" transform="translate(1397.87 551.32) scale(0.6884 0.7064)">v</text><text class="rm" transform="translate(1428.33 560.83) scale(0.4770 0.4694)">22</text><text class="rm" transform="translate(1495.93 556.15) scale(0.8946 0.7000)">−</text><text class="it" transform="translate(1563.47 551.63) scale(0.7709 0.7094)">ẋ</text><text class="rm" transform="translate(1601.42 531.52) scale(0.4350 0.4136)">*</text><text class="rm" transform="translate(1600.52 567.63) scale(0.4781 0.4634)">22</text>
<path d="M1257 617.36H1383" stroke="#EDB120" stroke-width="7" fill="none"/>
<text class="it" transform="translate(1397.87 634.75) scale(0.6884 0.7064)">v</text><text class="rm" transform="translate(1428.33 644.26) scale(0.4770 0.4694)">32</text><text class="rm" transform="translate(1495.93 639.58) scale(0.8946 0.7000)">−</text><text class="it" transform="translate(1563.47 635.06) scale(0.7709 0.7094)">ẋ</text><text class="rm" transform="translate(1601.42 614.95) scale(0.4350 0.4136)">*</text><text class="rm" transform="translate(1600.52 651.06) scale(0.4781 0.4634)">32</text>
<path d="M1257 700.79H1383" stroke="#7E2F8E" stroke-width="7" fill="none"/>
<text class="it" transform="translate(1397.87 718.18) scale(0.6884 0.7064)">v</text><text class="rm" transform="translate(1428.33 727.69) scale(0.4770 0.4694)">42</text><text class="rm" transform="translate(1495.93 723.01) scale(0.8946 0.7000)">−</text><text class="it" transform="translate(1563.47 718.49) scale(0.7709 0.7094)">ẋ</text><text class="rm" transform="translate(1601.42 698.38) scale(0.4350 0.4136)">*</text><text class="rm" transform="translate(1600.52 734.49) scale(0.4781 0.4634)">42</text>
<path d="M1257 784.21H1383" stroke="#77AC30" stroke-width="7" fill="none"/>
<text class="it" transform="translate(1397.87 801.61) scale(0.6884 0.7064)">v</text><text class="rm" transform="translate(1428.33 811.11) scale(0.4770 0.4694)">52</text><text class="rm" transform="translate(1495.93 806.44) scale(0.8946 0.7000)">−</text><text class="it" transform="translate(1563.47 801.91) scale(0.7709 0.7094)">ẋ</text><text class="rm" transform="translate(1601.42 781.81) scale(0.4350 0.4136)">*</text><text class="rm" transform="translate(1600.52 817.91) scale(0.4781 0.4634)">52</text>
<path d="M1257 867.64H1383" stroke="#4DBEEE" stroke-width="7" fill="none"/>
<text class="it" transform="translate(1397.87 885.04) scale(0.6884 0.7064)">v</text><text class="rm" transform="translate(1428.33 894.54) scale(0.4770 0.4694)">62</text><text class="rm" transform="translate(1495.93 889.87) scale(0.8946 0.7000)">−</text><text class="it" transform="translate(1563.47 885.34) scale(0.7709 0.7094)">ẋ</text><text class="rm" transform="translate(1601.42 865.23) scale(0.4350 0.4136)">*</text><text class="rm" transform="translate(1600.52 901.34) scale(0.4781 0.4634)">62</text>
<path d="M1257 951.07H1383" stroke="#A2142F" stroke-width="7" fill="none"/>
<text class="it" transform="translate(1397.87 968.47) scale(0.6884 0.7064)">v</text><text class="rm" transform="translate(1428.33 977.97) scale(0.4770 0.4694)">72</text><text class="rm" transform="translate(1495.93 973.30) scale(0.8946 0.7000)">−</text><text class="it" transform="translate(1563.47 968.77) scale(0.7709 0.7094)">ẋ</text><text class="rm" transform="translate(1601.42 948.66) scale(0.4350 0.4136)">*</text><text class="rm" transform="translate(1600.52 984.77) scale(0.4781 0.4634)">72</text>
<path d="M1257 1034.50H1383" stroke="#0072BD" stroke-width="7" fill="none"/>
<text class="it" transform="translate(1397.87 1051.89) scale(0.6884 0.7064)">v</text><text class="rm" transform="translate(1428.33 1061.40) scale(0.4770 0.4694)">82</text><text class="rm" transform="translate(1495.93 1056.72) scale(0.8946 0.7000)">−</text><text class="it" transform="translate(1563.47 1052.20) scale(0.7709 0.7094)">ẋ</text><text class="rm" transform="translate(1601.42 1032.09) scale(0.4350 0.4136)">*</text><text class="rm" transform="translate(1600.52 1068.20) scale(0.4781 0.4634)">82</text>
</g>
<g class="tk">
<text transform="translate(210.50 1243.8) scale(0.9666 1)" text-anchor="middle">0</text>
<text transform="translate(590.25 1243.8) scale(0.9666 1)" text-anchor="middle">5</text>
<text transform="translate(970.00 1243.8) scale(0.9666 1)" text-anchor="middle">10</text>
<text transform="translate(1349.75 1243.8) scale(0.9666 1)" text-anchor="middle">15</text>
<text transform="translate(1729.50 1243.8) scale(0.9666 1)" text-anchor="middle">20</text>
<text transform="translate(184.6 74.90) scale(0.9666 1)" text-anchor="end">2</text>
<text transform="translate(184.6 349.15) scale(0.9666 1)" text-anchor="end">0</text>
<text transform="translate(184.6 623.40) scale(0.9666 1)" text-anchor="end">-<tspan dx="1.6">2</tspan></text>
<text transform="translate(184.6 897.65) scale(0.9666 1)" text-anchor="end">-<tspan dx="1.6">4</tspan></text>
<text transform="translate(184.6 1171.90) scale(0.9666 1)" text-anchor="end">-<tspan dx="1.6">6</tspan></text>
</g>
<text class="xl" transform="translate(721.3 1351.1) scale(0.969 1)">Time(second)</text>
<g class="yl" transform="translate(0 1390) rotate(-90)">
<text class="it" transform="translate(650.69 76.80) scale(0.8070 0.8043)">v</text>
<text class="it" transform="translate(687.24 89.20) scale(0.7013 0.5766)">i</text>
<text class="rm" transform="translate(709.44 88.10) scale(0.5475 0.5600)">2</text>
<text class="rm" transform="translate(762.19 77.81) scale(1.0624 0.6800)">−</text>
<text class="it" transform="translate(846.99 77.40) scale(0.8894 0.8302)">ẋ</text>
<text class="rm" transform="translate(890.24 58.65) scale(0.5325 0.6558)">*</text>
<text class="it" transform="translate(888.24 97.00) scale(0.7013 0.5736)">i</text>
<text class="rm" transform="translate(910.62 96.30) scale(0.5500 0.5630)">2</text>
</g>
</svg>
</body>
</html>
